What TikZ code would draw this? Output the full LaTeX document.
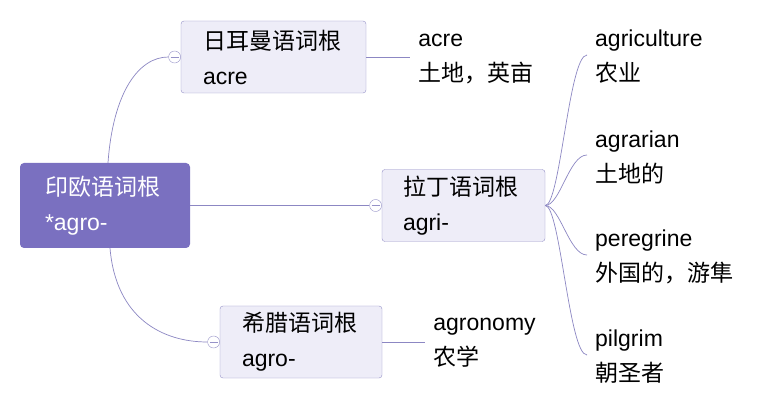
\documentclass[tikz,border=0pt]{standalone}
\usepackage{fontspec}
\setmainfont{Liberation Sans}
\newfontfamily\cjk{Noto Sans CJK SC}
\usetikzlibrary{positioning}
\definecolor{rootfill}{RGB}{122,112,192}
\definecolor{boxfill}{RGB}{238,237,248}
\definecolor{boxline}{RGB}{150,146,200}
\definecolor{linkline}{RGB}{140,135,195}
\def\zh#1{{\cjk #1}}

\begin{document}
\begin{tikzpicture}[x=1pt,y=-1pt,
    every node/.style={font=\fontsize{23}{35}\selectfont},
    root/.style={fill=rootfill,text=white,rounded corners=4pt,inner xsep=25pt,text width=120pt,minimum height=85pt,align=left},
    branch/.style={draw=boxline,fill=boxfill,rounded corners=3pt,inner xsep=22pt,minimum height=72pt,align=left},
    leaf/.style={inner xsep=8pt,align=left,anchor=west},
    knob/.style={circle,draw=boxline,fill=white,inner sep=0pt,minimum size=12pt,
        path picture={\draw[boxline] ([xshift=-4pt]path picture bounding box.center) -- ([xshift=4pt]path picture bounding box.center);}},
    link/.style={draw=linkline,line width=0.7pt}]
    \fill[white] (0,0) rectangle (773,411);
    \useasboundingbox (0,0) rectangle (773,411);

    \node[root] (R) at (105,205.5) {\zh{印欧语词根}\\{*}agro-};
    \node[branch,text width=141pt] (G) at (273.5,57) {\zh{日耳曼语词根}\\acre};
    \node[branch,text width=121pt,inner xsep=21pt] (L) at (463.5,205.5) {\zh{拉丁语词根}\\agri-};
    \node[branch,text width=118pt] (K) at (301,342) {\zh{希腊语词根}\\agro-};

    \node[knob,left=0pt of G] (Gk) {};
    \node[knob,left=0pt of L] (Lk) {};
    \node[knob,left=0pt of K] (Kk) {};

    \node[leaf,right=44pt of G,yshift=-2pt] (G1) {acre\\\zh{土地，英亩}};
    \node[leaf,right=43pt of K,yshift=-1pt] (K1) {agronomy\\\zh{农学}};
    \node[leaf] (L1) at (587,57) {agriculture\\\zh{农业}};
    \node[leaf] (L2) at (587,157) {agrarian\\\zh{土地的}};
    \node[leaf] (L3) at (587,257) {peregrine\\\zh{外国的，游隼}};
    \node[leaf] (L4) at (587,357) {pilgrim\\\zh{朝圣者}};

    \draw[link] ([xshift=3pt]R.north) .. controls +(5,-70) and +(-30,0) .. (Gk.west);
    \draw[link] (R.east) -- (Lk.west);
    \draw[link] ([xshift=5pt]R.south) .. controls +(6,70) and +(-45,0) .. (Kk.west);
    \draw[link] (G.east) -- (G1.west |- G.east);
    \draw[link] (K.east) -- (K1.west |- K.east);
    \foreach \n in {L1,L2,L3,L4}
        \draw[link] (L.east) .. controls +(15,0) and +(-18,0) .. ([yshift=2pt]\n.west);
\end{tikzpicture}
\end{document}
